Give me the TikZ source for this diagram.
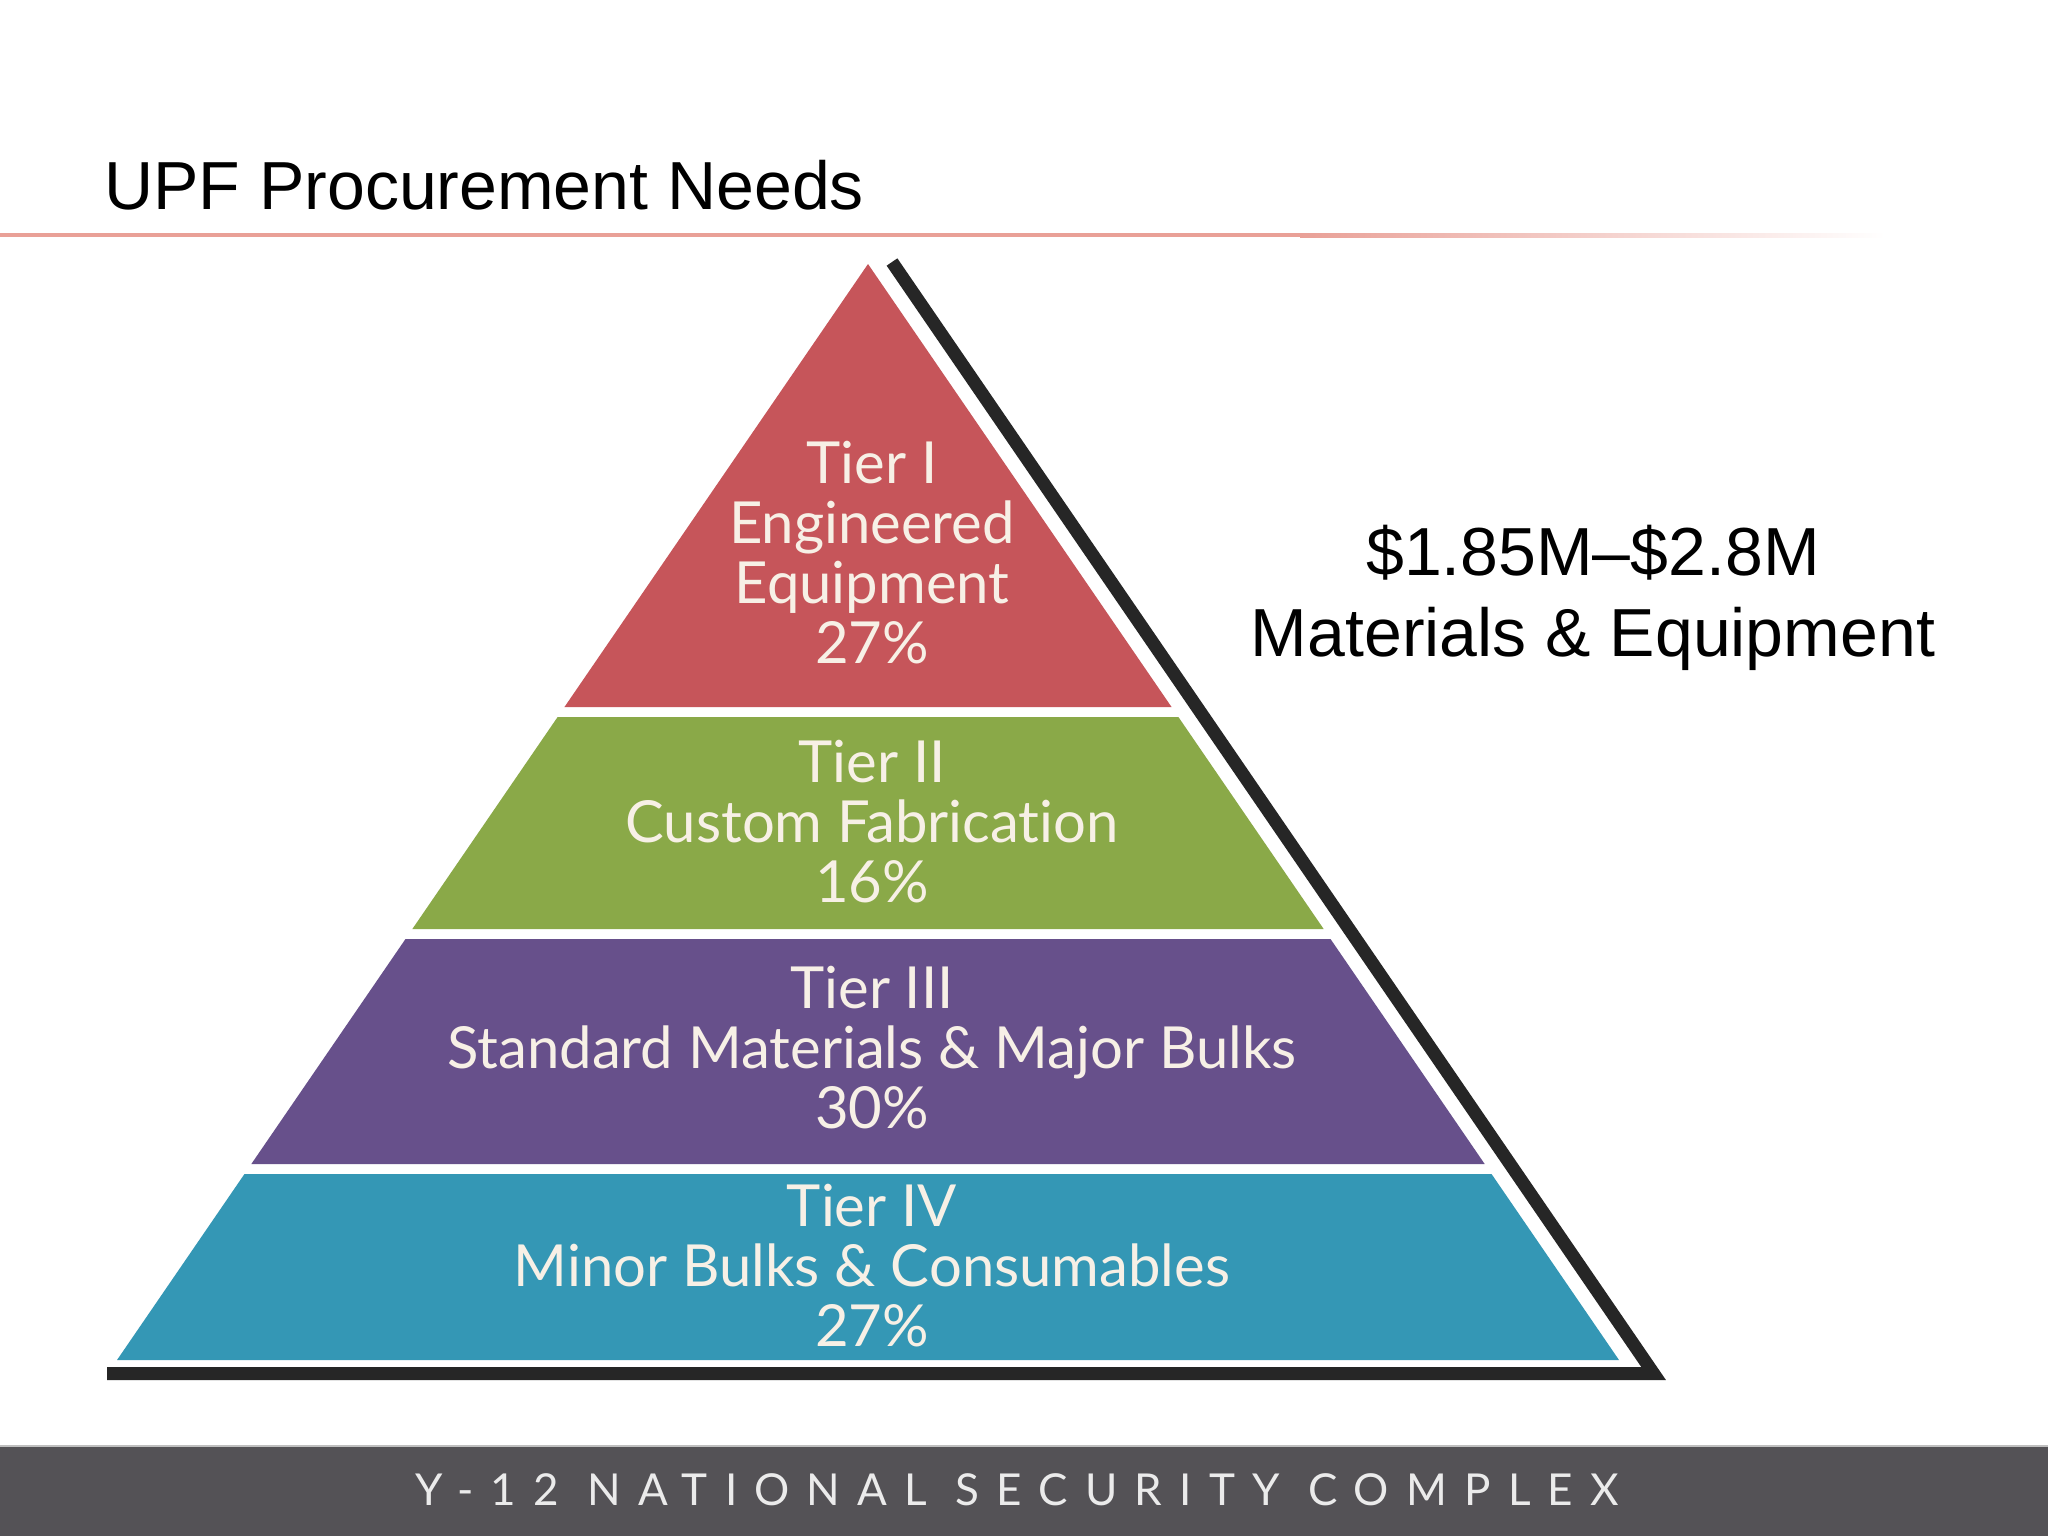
\documentclass[tikz,border=0pt]{standalone}
\usepackage{fontspec}
\setmainfont{Liberation Sans}
\newfontfamily\tierfont[Ligatures=NoCommon]{Lato}
\newfontfamily\footfont[LetterSpace=39]{Lato}
\usepackage{xcolor}
\usepackage{tikz}
\usetikzlibrary{calc}
\definecolor{upfred}{HTML}{C6555A}
\definecolor{upfgreen}{HTML}{8AA948}
\definecolor{upfpurple}{HTML}{67508B}
\definecolor{upfteal}{HTML}{3497B5}
\definecolor{upfrule}{HTML}{E9A097}
\definecolor{upffoot}{HTML}{545256}
\definecolor{upfcream}{HTML}{F7F0E6}
\definecolor{upfblack}{HTML}{262626}
\tikzset{
  titletext/.style={font=\fontsize{34}{40}\selectfont, text=black, inner sep=0pt},
  costtext/.style={font=\fontsize{34}{40}\selectfont, text=black, inner sep=0pt},
  tiertext/.style={font=\tierfont\fontsize{29}{30}\selectfont, text=upfcream,
    align=center, inner sep=0pt},
  foottext/.style={font=\footfont\fontsize{22}{24}\selectfont, text=white!92!black, inner sep=0pt},
  pyramidline/.style={draw=upfblack, line width=6.5pt, line join=miter}
}
% half width of the pyramid at height y (px, apex at 264)
\newcommand{\pyrhw}[1]{(#1-264)*0.6852}

\begin{document}
\begin{tikzpicture}[x=0.5pt, y=-0.5pt]
  \useasboundingbox (0,0) rectangle (2048,1536);
  \fill[white] (0,0) rectangle (2048,1536);

  % title and rule
  \node[titletext, anchor=base west] (title) at (104,209) {UPF Procurement Needs};
  \fill[upfrule] (0,233) rectangle (1300,237);
  \shade[left color=upfrule, right color=white] (1300,233) rectangle (1885,237);

  % pyramid bands: top / bottom / colour
  \foreach \t/\b/\c in {264/707/upfred, 717/929/upfgreen, 939/1164/upfpurple, 1174/1360/upfteal}{
    \fill[\c] ({868-\pyrhw{\t}},\t) -- ({868+\pyrhw{\t}},\t)
      -- ({868+\pyrhw{\b}},\b) -- ({868-\pyrhw{\b}},\b) -- cycle;
  }

  % black edge
  \coordinate (edgetop) at (892,262);
  \coordinate (edgecorner) at ($(edgetop)+(761.6,1111.5)$);
  \coordinate (edgeend) at (107,1373.5);
  \draw[pyramidline] (edgetop) -- (edgecorner) -- (edgeend);

  \node[tiertext] (tierI) at (872,553) {Tier I\\Engineered\\Equipment\\27\%};
  \node[tiertext] (tierII) at (872,822) {Tier II\\Custom Fabrication\\16\%};
  \node[tiertext] (tierIII) at (872,1048) {Tier III\\Standard Materials \& Major Bulks\\30\%};
  \node[tiertext] (tierIV) at (872,1266) {Tier IV\\Minor Bulks \& Consumables\\27\%};

  \node[costtext, anchor=base] (costrange) at (1593,575) {\$1.85M\textendash\$2.8M};
  \node[costtext, anchor=base] (costlabel) at (1593,656) {Materials \& Equipment};

  % footer
  \fill[upffoot] (0,1446) rectangle (2048,1536);
  \draw[white!75!black, line width=1pt] (0,1446) -- (2048,1446);
  \node[foottext] (footer) at (1017,1490) {Y-12 NATIONAL SECURITY COMPLEX};
\end{tikzpicture}
\end{document}
